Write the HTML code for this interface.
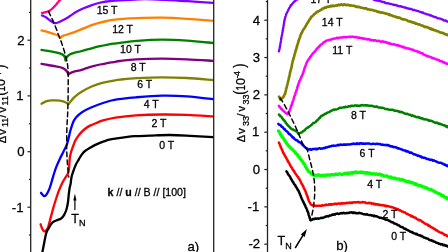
<!DOCTYPE html>
<html><head><meta charset="utf-8"><title>plot</title>
<style>html,body{margin:0;padding:0;background:#fff;width:448px;height:252px;overflow:hidden}svg{display:block;filter:blur(0.35px)}</style>
</head><body>
<svg width="448" height="252" viewBox="0 0 448 252">
<rect width="448" height="252" fill="#fff"/>
<g fill="none" stroke-linecap="round" stroke-linejoin="round">
<path d="M42.00 12.90 C42.48 12.82 43.83 12.67 44.90 12.40 C45.97 12.13 47.52 11.65 48.40 11.30 C49.28 10.95 49.53 10.77 50.20 10.30 C50.87 9.83 51.58 9.25 52.40 8.50 C53.22 7.75 54.23 6.75 55.10 5.80 C55.97 4.85 56.80 3.77 57.60 2.80 C58.40 1.83 59.27 0.80 59.90 0.00 C60.53 -0.80 61.15 -1.67 61.40 -2.00" stroke="#FF0080" stroke-width="2.30"/>
<path d="M42.00 15.40 C42.65 15.72 44.58 16.48 45.90 17.30 C47.22 18.12 48.65 19.42 49.90 20.30 C51.15 21.18 52.42 22.12 53.40 22.60 C54.38 23.08 54.73 23.33 55.80 23.20 C56.87 23.07 58.15 22.53 59.80 21.80 C61.45 21.07 63.72 19.95 65.70 18.80 C67.68 17.65 69.98 16.02 71.70 14.90 C73.42 13.78 74.02 13.20 76.00 12.10 C77.98 11.00 81.07 9.43 83.60 8.30 C86.13 7.17 88.67 6.18 91.20 5.30 C93.73 4.42 96.28 3.63 98.80 3.00 C101.32 2.37 103.52 1.90 106.30 1.50 C109.08 1.10 112.22 0.85 115.50 0.60 C118.78 0.35 121.08 0.23 126.00 0.00 C130.92 -0.23 138.58 -0.77 145.00 -0.80 C151.42 -0.83 157.40 -0.53 164.50 -0.20 C171.60 0.13 179.52 0.70 187.60 1.20 C195.68 1.70 208.77 2.53 213.00 2.80" stroke="#8000FF" stroke-width="2.30"/>
<path d="M41.50 30.40 C42.23 30.57 44.17 30.90 45.90 31.40 C47.63 31.90 50.00 32.78 51.90 33.40 C53.80 34.02 55.90 34.37 57.30 35.10 C58.70 35.83 59.80 37.35 60.30 37.80" stroke="#FF8000" stroke-width="2.30"/>
<path d="M60.30 37.80 C60.72 37.48 61.57 36.47 62.80 35.90 C64.03 35.33 65.88 34.98 67.70 34.40 C69.52 33.82 71.65 33.15 73.70 32.40 C75.75 31.65 77.83 30.78 80.00 29.90 C82.17 29.02 84.48 27.97 86.70 27.10 C88.92 26.23 91.08 25.43 93.30 24.70 C95.52 23.97 97.77 23.32 100.00 22.70 C102.23 22.08 104.48 21.47 106.70 21.00 C108.92 20.53 111.08 20.22 113.30 19.90 C115.52 19.58 116.05 19.40 120.00 19.10 C123.95 18.80 130.00 18.33 137.00 18.10 C144.00 17.87 153.67 17.58 162.00 17.70 C170.33 17.82 178.50 18.27 187.00 18.80 C195.50 19.33 208.67 20.55 213.00 20.90" stroke="#FF8000" stroke-width="2.30"/>
<path d="M41.50 49.90 C42.57 50.07 45.52 50.48 47.90 50.90 C50.28 51.32 53.40 51.82 55.80 52.40 C58.20 52.98 60.83 53.67 62.30 54.40 C63.77 55.13 64.05 55.82 64.60 56.80 C65.15 57.78 65.43 59.72 65.60 60.30" stroke="#008000" stroke-width="2.30"/>
<path d="M65.60 60.30 C65.78 59.80 66.02 58.28 66.70 57.30 C67.38 56.32 68.20 55.22 69.70 54.40 C71.20 53.58 73.98 52.88 75.70 52.40 C77.42 51.92 78.17 51.97 80.00 51.50 C81.83 51.03 84.48 50.22 86.70 49.60 C88.92 48.98 91.08 48.37 93.30 47.80 C95.52 47.23 97.77 46.70 100.00 46.20 C102.23 45.70 104.48 45.22 106.70 44.80 C108.92 44.38 111.08 44.02 113.30 43.70 C115.52 43.38 116.05 43.38 120.00 42.90 C123.95 42.42 130.00 41.35 137.00 40.80 C144.00 40.25 153.67 39.63 162.00 39.60 C170.33 39.57 178.50 40.03 187.00 40.60 C195.50 41.17 208.67 42.60 213.00 43.00" stroke="#008000" stroke-width="2.30"/>
<path d="M41.50 63.80 C42.57 64.00 45.52 64.57 47.90 65.00 C50.28 65.43 53.42 65.92 55.80 66.40 C58.18 66.88 60.45 67.20 62.20 67.90 C63.95 68.60 65.27 69.53 66.30 70.60 C67.33 71.67 68.05 73.68 68.40 74.30" stroke="#800080" stroke-width="2.30"/>
<path d="M68.40 74.30 C68.70 74.10 69.15 73.58 70.20 73.10 C71.25 72.62 73.07 71.85 74.70 71.40 C76.33 70.95 78.00 70.93 80.00 70.40 C82.00 69.87 84.48 68.90 86.70 68.20 C88.92 67.50 91.08 66.82 93.30 66.20 C95.52 65.58 97.77 65.00 100.00 64.50 C102.23 64.00 104.48 63.60 106.70 63.20 C108.92 62.80 111.08 62.47 113.30 62.10 C115.52 61.73 116.22 61.47 120.00 61.00 C123.78 60.53 129.00 59.70 136.00 59.30 C143.00 58.90 153.50 58.60 162.00 58.60 C170.50 58.60 178.50 58.93 187.00 59.30 C195.50 59.67 208.67 60.55 213.00 60.80" stroke="#800080" stroke-width="2.30"/>
<path d="M41.50 103.80 C42.23 103.40 44.33 101.97 45.90 101.40 C47.47 100.83 49.25 100.57 50.90 100.40 C52.55 100.23 53.92 100.27 55.80 100.40 C57.68 100.53 60.45 100.80 62.20 101.20 C63.95 101.60 65.28 102.32 66.30 102.80 C67.32 103.28 67.97 103.88 68.30 104.10" stroke="#808000" stroke-width="2.30"/>
<path d="M68.30 104.10 C68.62 103.73 69.13 103.10 70.20 101.90 C71.27 100.70 72.73 98.62 74.70 96.90 C76.67 95.18 79.27 93.28 82.00 91.60 C84.73 89.92 87.73 88.25 91.10 86.80 C94.47 85.35 98.50 83.92 102.20 82.90 C105.90 81.88 110.33 81.25 113.30 80.70 C116.27 80.15 116.05 80.03 120.00 79.60 C123.95 79.17 130.00 78.48 137.00 78.10 C144.00 77.72 153.67 77.32 162.00 77.30 C170.33 77.28 178.50 77.55 187.00 78.00 C195.50 78.45 208.67 79.67 213.00 80.00" stroke="#808000" stroke-width="2.30"/>
<path d="M41.00 192.80 C41.27 193.13 42.03 194.23 42.60 194.80 C43.17 195.37 43.73 196.28 44.40 196.20 C45.07 196.12 45.77 195.52 46.60 194.30 C47.43 193.08 48.52 191.13 49.40 188.90 C50.28 186.67 51.15 183.38 51.90 180.90 C52.65 178.42 53.17 176.33 53.90 174.00 C54.63 171.67 55.32 169.42 56.30 166.90 C57.28 164.38 58.63 161.38 59.80 158.90 C60.97 156.42 62.15 154.33 63.30 152.00 C64.45 149.67 65.80 147.25 66.70 144.90 C67.60 142.55 68.08 140.30 68.70 137.90 C69.32 135.50 69.57 133.33 70.40 130.50 C71.23 127.67 72.50 123.33 73.70 120.90 C74.90 118.47 76.22 117.35 77.60 115.90 C78.98 114.45 79.85 113.55 82.00 112.20 C84.15 110.85 87.00 109.33 90.50 107.80 C94.00 106.27 98.83 104.37 103.00 103.00 C107.17 101.63 110.00 100.55 115.50 99.60 C121.00 98.65 128.25 97.97 136.00 97.30 C143.75 96.63 153.50 95.77 162.00 95.60 C170.50 95.43 178.50 95.72 187.00 96.30 C195.50 96.88 208.67 98.63 213.00 99.10" stroke="#0000FF" stroke-width="2.30"/>
<path d="M40.60 224.30 C40.80 224.88 41.35 226.78 41.80 227.80 C42.25 228.82 42.80 229.82 43.30 230.40 C43.80 230.98 44.28 231.37 44.80 231.30 C45.32 231.23 45.83 230.75 46.40 230.00 C46.97 229.25 47.48 228.87 48.20 226.80 C48.92 224.73 49.97 220.32 50.70 217.60 C51.43 214.88 52.05 212.52 52.60 210.50 C53.15 208.48 53.27 207.92 54.00 205.50 C54.73 203.08 56.20 198.45 57.00 196.00 C57.80 193.55 58.00 192.82 58.80 190.80 C59.60 188.78 60.80 185.95 61.80 183.90 C62.80 181.85 63.87 180.05 64.80 178.50 C65.73 176.95 66.77 175.77 67.40 174.60 C68.03 173.43 68.30 172.93 68.60 171.50 C68.90 170.07 69.00 168.23 69.20 166.00 C69.40 163.77 69.53 160.27 69.80 158.10 C70.07 155.93 70.40 154.58 70.80 153.00 C71.20 151.42 71.43 150.67 72.20 148.60 C72.97 146.53 74.38 142.73 75.40 140.60 C76.42 138.47 77.25 137.25 78.30 135.80 C79.35 134.35 80.50 133.12 81.70 131.90 C82.90 130.68 84.12 129.55 85.50 128.50 C86.88 127.45 88.27 126.48 90.00 125.60 C91.73 124.72 93.73 124.07 95.90 123.20 C98.07 122.33 99.73 121.33 103.00 120.40 C106.27 119.47 110.00 118.43 115.50 117.60 C121.00 116.77 128.25 115.92 136.00 115.40 C143.75 114.88 153.50 114.58 162.00 114.50 C170.50 114.42 178.50 114.58 187.00 114.90 C195.50 115.22 208.67 116.15 213.00 116.40" stroke="#FF0000" stroke-width="2.30"/>
<path d="M41.90 254.00 C41.98 253.67 41.98 254.03 42.40 252.00 C42.82 249.97 43.75 244.97 44.40 241.80 C45.05 238.63 45.53 235.37 46.30 233.00 C47.07 230.63 48.12 229.20 49.00 227.60 C49.88 226.00 50.70 224.45 51.60 223.40 C52.50 222.35 53.47 221.85 54.40 221.30 C55.33 220.75 56.08 220.57 57.20 220.10 C58.32 219.63 59.97 219.32 61.10 218.50 C62.23 217.68 63.08 216.78 64.00 215.20 C64.92 213.62 65.93 211.20 66.60 209.00 C67.27 206.80 67.67 204.17 68.00 202.00 C68.33 199.83 68.40 197.83 68.60 196.00 C68.80 194.17 69.02 192.42 69.20 191.00 C69.38 189.58 69.47 188.68 69.70 187.50 C69.93 186.32 70.35 185.32 70.60 183.90 C70.85 182.48 70.93 180.57 71.20 179.00 C71.47 177.43 71.83 175.83 72.20 174.50 C72.57 173.17 72.82 172.60 73.40 171.00 C73.98 169.40 74.83 166.77 75.70 164.90 C76.57 163.03 77.60 161.52 78.60 159.80 C79.60 158.08 80.63 156.07 81.70 154.60 C82.77 153.13 83.62 152.13 85.00 151.00 C86.38 149.87 88.18 148.87 90.00 147.80 C91.82 146.73 93.60 145.67 95.90 144.60 C98.20 143.53 101.17 142.30 103.80 141.40 C106.43 140.50 107.73 139.97 111.70 139.20 C115.67 138.43 123.38 137.32 127.60 136.80 C131.82 136.28 133.27 136.30 137.00 136.10 C140.73 135.90 144.50 135.78 150.00 135.60 C155.50 135.42 163.33 134.97 170.00 135.00 C176.67 135.03 182.83 135.43 190.00 135.80 C197.17 136.17 209.17 136.97 213.00 137.20" stroke="#000000" stroke-width="2.30"/>
<path d="M48.40 11.40 C49.32 13.30 52.20 18.87 53.90 22.80 C55.60 26.73 57.20 31.30 58.60 35.00 C60.00 38.70 61.08 41.33 62.30 45.00 C63.52 48.67 64.97 53.17 65.90 57.00 C66.83 60.83 67.52 63.33 67.90 68.00 C68.28 72.67 68.22 78.00 68.20 85.00 C68.18 92.00 68.02 102.83 67.80 110.00 C67.58 117.17 67.08 121.67 66.90 128.00 C66.72 134.33 66.63 142.33 66.70 148.00 C66.77 153.67 67.05 158.00 67.30 162.00 C67.55 166.00 67.95 169.50 68.20 172.00 C68.45 174.50 68.70 176.17 68.80 177.00" stroke="#000" stroke-width="1.45" stroke-dasharray="4.8 3.2"/>
<path d="M278.90 51.40 L279.03 50.67 L279.20 50.22 L279.42 49.21 L279.65 48.33 L279.90 47.10 L280.02 46.00 L280.14 45.23 L280.27 45.10 L280.41 43.80 L280.55 42.91 L280.69 42.62 L280.83 41.30 L280.98 40.70 L281.12 39.53 L281.26 38.81 L281.40 37.62 L281.55 37.16 L281.70 36.52 L281.86 35.43 L282.01 34.81 L282.16 33.96 L282.31 32.69 L282.46 32.46 L282.61 31.55 L282.76 30.53 L282.90 29.52 L283.04 29.39 L283.17 28.25 L283.31 27.61 L283.44 26.91 L283.57 25.95 L283.70 25.30 L283.82 24.08 L283.95 23.65 L284.07 22.64 L284.20 22.35 L284.40 21.28 L284.58 19.73 L284.76 18.92 L284.95 18.18 L285.16 17.99 L285.40 16.75 L285.67 16.07 L285.96 14.99 L286.27 14.34 L286.60 13.44 L286.94 12.60 L287.30 11.97 L287.68 11.13 L288.07 10.52 L288.48 9.48 L288.91 8.83 L289.35 7.96 L289.80 7.29 L290.27 6.31 L290.74 5.22 L291.24 5.11 L291.74 4.56 L292.27 3.91 L292.80 3.06 L293.43 2.52 L294.06 1.53 L294.72 1.46 L295.45 0.68 L296.30 -0.17 L296.95 -0.79 L297.70 -0.64 L298.53 -1.04 L299.37 -2.27 L300.18 -2.18 L300.92 -2.93 L301.55 -3.51 L302.00 -3.66" stroke="#8000FF" stroke-width="2.30"/>
<path d="M368.00 -3.00 L368.43 -2.61 L368.97 -2.29 L369.60 -2.68 L370.32 -1.91 L371.09 -2.04 L371.92 -1.15 L372.79 -1.12 L373.69 -0.33 L374.59 0.08 L375.50 0.00 L376.22 0.62 L377.00 0.30 L377.81 0.35 L378.66 1.00 L379.52 0.78 L380.40 1.14 L381.28 1.54 L382.15 1.92 L383.00 1.77 L383.82 1.89 L384.60 2.74 L385.33 2.48 L386.00 3.17 L387.04 3.38 L387.87 3.15 L388.57 3.37 L389.24 3.56 L389.98 3.82 L390.87 3.99 L392.00 4.25 L392.62 4.46 L393.29 4.89 L394.00 4.73 L394.74 4.86 L395.52 5.30 L396.32 5.13 L397.14 5.40 L397.99 6.16 L398.84 6.03 L399.70 6.28 L400.57 6.09 L401.44 6.64 L402.30 7.01 L403.16 6.79 L404.00 7.49 L404.77 7.71 L405.54 7.45 L406.29 8.10 L407.04 8.16 L407.79 8.51 L408.54 8.44 L409.30 8.91 L410.06 9.13 L410.84 8.76 L411.64 9.00 L412.46 9.72 L413.30 10.18 L414.18 9.85 L415.08 10.28 L416.02 10.67 L417.00 10.76 L417.65 11.00 L418.34 11.18 L419.05 11.45 L419.78 11.87 L420.53 11.89 L421.30 12.20 L422.08 12.79 L422.88 12.46 L423.69 13.17 L424.50 13.58 L425.33 13.53 L426.15 13.74 L426.97 14.49 L427.80 14.33 L428.62 14.57 L429.43 15.05 L430.23 15.54 L431.02 15.34 L431.79 15.79 L432.55 16.07 L433.29 16.72 L434.01 16.66 L434.70 17.23 L435.36 16.92 L436.00 17.27 L437.03 17.88 L438.04 18.42 L439.04 18.42 L440.01 18.57 L440.96 18.82 L441.88 19.47 L442.76 19.51 L443.60 20.30 L444.40 20.60 L445.15 20.34 L445.84 20.66 L446.48 21.31 L447.05 21.38 L447.56 21.69 L448.00 21.48" stroke="#8000FF" stroke-width="2.30"/>
<path d="M279.00 96.60 L279.30 96.91 L279.75 97.93 L280.20 99.23 L280.50 99.42" stroke="#808000" stroke-width="2.70"/>
<path d="M280.50 99.60 L281.14 99.02 L282.04 98.40 L282.90 97.54 L283.33 96.93 L283.75 96.68 L284.16 95.34 L284.54 94.41 L284.90 94.25 L285.14 93.47 L285.37 92.74 L285.58 91.44 L285.79 90.96 L285.99 90.04 L286.20 88.60 L286.40 88.20 L286.63 87.41 L286.85 86.48 L287.07 85.60 L287.29 84.61 L287.53 83.75 L287.80 82.58 L287.96 81.78 L288.13 81.46 L288.30 80.44 L288.48 80.04 L288.67 78.58 L288.86 78.41 L289.05 77.37 L289.24 76.69 L289.43 75.82 L289.62 75.01 L289.80 73.96 L290.01 72.66 L290.22 72.38 L290.45 71.05 L290.67 70.28 L290.89 69.72 L291.11 68.79 L291.31 67.92 L291.50 67.61 L291.66 66.68 L291.80 65.87 L291.98 64.81 L292.02 64.75 L292.07 63.87 L292.30 63.03 L292.45 62.09 L292.63 61.29 L292.83 60.83 L293.05 60.26 L293.28 58.91 L293.53 58.54 L293.78 57.76 L294.04 56.77 L294.30 55.89 L294.55 54.36 L294.80 54.00 L295.03 53.40 L295.27 51.93 L295.51 51.27 L295.76 50.41 L296.02 49.76 L296.27 48.82 L296.52 48.02 L296.76 47.45 L296.99 46.05 L297.21 45.35 L297.41 44.72 L297.60 44.10 L297.90 43.03 L298.12 42.97 L298.31 42.22 L298.49 40.99 L298.71 40.64 L299.00 39.65 L299.24 38.99 L299.49 38.30 L299.76 37.79 L300.04 36.96 L300.34 35.98 L300.66 35.04 L300.99 34.34 L301.34 33.38 L301.70 32.94 L302.09 32.30 L302.50 31.26 L302.94 30.25 L303.39 29.55 L303.86 28.93 L304.33 28.35 L304.79 27.73 L305.25 26.65 L305.70 26.24 L306.13 25.36 L306.56 24.47 L306.98 23.69 L307.40 23.06 L307.82 22.51 L308.25 21.58 L308.69 21.10 L309.14 20.23 L309.60 19.40 L310.11 18.91 L310.58 18.35 L311.05 17.18 L311.54 16.81 L312.08 16.16 L312.68 15.87 L313.38 15.24 L314.20 14.10 L314.73 14.11 L315.29 13.59 L315.88 12.72 L316.51 12.43 L317.17 11.71 L317.84 11.80 L318.54 11.22 L319.26 10.95 L320.00 10.44 L320.74 9.92 L321.50 9.56 L322.26 9.04 L323.03 8.31 L323.80 8.37 L324.53 7.62 L325.28 7.46 L326.06 7.71 L326.85 6.88 L327.66 6.70 L328.47 6.49 L329.29 6.91 L330.12 6.16 L330.94 5.86 L331.77 6.35 L332.58 5.62 L333.39 6.05 L334.18 5.78 L334.95 5.79 L335.70 5.76 L336.60 5.33 L337.45 5.38 L338.28 4.66 L339.08 5.15 L339.87 4.87 L340.66 4.98 L341.46 4.45 L342.28 4.95 L343.13 5.10 L344.03 4.43 L344.98 4.68 L346.00 4.95 L346.67 5.22 L347.33 4.82 L348.00 4.84 L348.67 4.98 L349.36 5.36 L350.05 5.57 L350.75 5.39 L351.47 5.49 L352.21 5.63 L352.96 5.73 L353.74 5.93 L354.54 5.81 L355.36 6.31 L356.22 6.86 L357.10 6.59 L358.02 7.05 L358.98 6.79 L359.97 7.43 L361.00 7.70 L361.64 7.78 L362.32 7.81 L363.03 7.95 L363.78 8.25 L364.55 8.63 L365.34 8.22 L366.16 8.37 L366.99 9.10 L367.84 9.44 L368.71 9.33 L369.59 9.49 L370.48 9.93 L371.37 9.73 L372.27 10.01 L373.17 10.18 L374.06 10.72 L374.95 10.73 L375.84 10.88 L376.71 11.47 L377.58 11.90 L378.42 11.59 L379.26 12.13 L380.06 12.10 L380.85 12.66 L381.61 12.64 L382.35 12.57 L383.05 12.71 L383.72 12.73 L384.35 13.26 L384.94 13.33 L385.49 13.31 L386.00 13.59 L387.74 14.01 L388.72 14.62 L389.22 14.26 L389.52 15.04 L389.89 14.77 L390.63 15.12 L392.00 15.47 L392.52 15.93 L393.06 16.10 L393.64 16.08 L394.24 16.21 L394.87 16.61 L395.53 16.93 L396.21 16.79 L396.91 17.28 L397.63 17.70 L398.38 17.55 L399.14 17.61 L399.92 17.87 L400.71 18.52 L401.52 18.75 L402.34 19.25 L403.18 19.44 L404.02 19.24 L404.88 19.48 L405.74 19.82 L406.61 20.06 L407.48 20.77 L408.36 21.19 L409.24 21.52 L410.12 21.30 L411.00 22.09 L411.68 21.88 L412.38 22.21 L413.10 22.71 L413.83 22.45 L414.59 22.71 L415.36 23.57 L416.14 23.41 L416.93 23.74 L417.74 24.20 L418.55 24.56 L419.37 24.31 L420.20 24.86 L421.03 25.23 L421.86 25.56 L422.69 25.64 L423.52 26.23 L424.35 26.82 L425.18 26.66 L426.00 27.07 L426.81 27.01 L427.61 27.42 L428.41 28.02 L429.19 27.85 L429.96 28.75 L430.71 29.03 L431.45 28.64 L432.16 29.57 L432.86 29.37 L433.54 29.93 L434.19 30.15 L434.82 30.01 L435.42 30.53 L436.00 30.72 L437.13 31.26 L438.20 31.22 L439.23 31.99 L440.20 32.52 L441.11 32.64 L441.98 32.86 L442.80 32.84 L443.56 33.45 L444.28 33.61 L444.95 34.17 L445.57 34.39 L446.15 34.52 L446.68 34.43 L447.16 34.99 L447.60 35.15 L448.00 34.94" stroke="#808000" stroke-width="2.70"/>
<path d="M278.90 105.90 L279.24 106.63 L279.71 107.04 L280.28 107.30 L280.89 108.67 L281.50 108.71 L282.14 109.52 L282.85 110.51 L283.57 111.08 L284.26 111.68 L284.90 112.32 L285.60 112.87 L286.24 113.44 L286.83 113.82 L287.40 113.85 L287.94 114.04 L288.43 113.38 L288.91 112.28 L289.40 111.39 L289.68 110.46 L289.94 109.72 L290.19 109.10 L290.46 108.71 L290.74 107.20 L291.05 106.64 L291.40 105.40 L291.63 105.14 L291.88 104.07 L292.14 103.26 L292.42 102.49 L292.71 101.73 L293.00 101.04 L293.29 99.83 L293.58 99.36 L293.86 97.93 L294.12 97.25 L294.37 96.37 L294.60 95.69 L294.94 95.20 L295.24 94.27 L295.51 93.03 L295.76 92.28 L296.02 91.70 L296.29 91.13 L296.60 90.25 L296.83 89.47 L297.07 88.59 L297.31 87.44 L297.55 86.83 L297.81 85.83 L298.07 85.26 L298.33 84.44 L298.61 83.31 L298.90 82.52 L299.20 82.13 L299.52 80.70 L299.87 80.48 L300.25 79.69 L300.63 78.88 L301.02 77.58 L301.40 76.88 L301.77 76.10 L302.11 75.37 L302.43 74.94 L302.70 74.05 L303.11 72.67 L303.40 72.28 L303.62 71.24 L303.87 70.55 L304.20 69.68 L304.46 68.36 L304.75 68.16 L305.05 67.21 L305.36 66.17 L305.69 65.30 L306.02 64.37 L306.36 63.32 L306.70 62.82 L307.08 61.64 L307.46 61.29 L307.84 60.72 L308.23 59.90 L308.65 59.34 L309.10 58.98 L309.60 58.21 L310.08 56.95 L310.60 56.79 L311.16 55.95 L311.73 54.79 L312.31 54.33 L312.89 53.53 L313.46 52.73 L314.00 52.43 L314.59 52.00 L315.17 50.79 L315.74 50.50 L316.31 49.65 L316.87 48.52 L317.43 48.43 L318.00 47.58 L318.67 47.12 L319.33 46.24 L320.00 45.59 L320.67 44.63 L321.33 44.40 L322.00 43.95 L322.71 43.32 L323.34 42.51 L324.00 42.33 L324.85 41.68 L326.00 40.89 L326.60 40.60 L327.27 40.39 L327.99 40.23 L328.76 39.93 L329.57 39.93 L330.41 39.82 L331.26 39.43 L332.13 39.08 L333.00 39.02 L333.85 38.52 L334.69 38.45 L335.50 38.51 L336.36 38.06 L337.22 37.73 L338.08 38.18 L338.93 37.93 L339.79 37.55 L340.65 37.48 L341.51 37.53 L342.37 37.53 L343.24 37.17 L344.12 36.95 L345.00 37.07 L345.80 37.48 L346.58 36.93 L347.35 37.14 L348.11 36.89 L348.88 36.87 L349.66 36.82 L350.45 37.00 L351.28 36.81 L352.14 36.72 L353.04 36.83 L353.99 36.94 L355.00 37.29 L355.68 37.02 L356.39 37.08 L357.14 37.52 L357.92 37.61 L358.72 37.97 L359.54 37.58 L360.37 38.00 L361.22 38.14 L362.07 38.00 L362.93 38.91 L363.78 38.46 L364.63 38.52 L365.46 38.98 L366.28 38.88 L367.08 39.39 L367.86 39.31 L368.61 39.27 L369.32 39.33 L370.00 39.98 L371.00 39.78 L371.93 40.33 L372.80 40.19 L373.63 40.68 L374.42 40.28 L375.19 40.34 L375.94 40.46 L376.70 41.01 L377.48 40.97 L378.28 40.87 L379.11 40.81 L380.00 41.45 L380.74 41.81 L381.49 41.66 L382.26 41.34 L383.03 41.51 L383.81 41.72 L384.61 41.95 L385.41 42.01 L386.22 42.20 L387.03 42.86 L387.85 43.24 L388.68 42.87 L389.50 43.68 L390.33 43.48 L391.17 43.94 L392.00 44.23 L392.79 44.45 L393.58 43.93 L394.39 44.35 L395.20 44.81 L396.02 45.30 L396.85 44.83 L397.67 45.22 L398.50 45.90 L399.33 45.54 L400.15 46.00 L400.98 46.19 L401.80 46.70 L402.61 47.13 L403.42 46.77 L404.21 47.46 L405.00 47.69 L405.83 48.02 L406.64 48.03 L407.45 48.57 L408.25 48.36 L409.04 48.65 L409.82 48.74 L410.61 49.42 L411.39 49.43 L412.18 49.52 L412.96 49.70 L413.75 50.41 L414.55 50.59 L415.36 50.96 L416.17 51.00 L417.00 51.39 L417.73 51.41 L418.45 52.14 L419.17 51.89 L419.88 52.54 L420.60 53.09 L421.31 53.34 L422.03 53.19 L422.76 53.63 L423.49 54.45 L424.24 54.62 L425.00 55.15 L425.78 55.50 L426.58 55.51 L427.39 56.22 L428.24 56.45 L429.10 56.50 L430.00 56.90 L430.67 56.93 L431.38 57.48 L432.13 58.22 L432.92 57.85 L433.73 58.54 L434.57 58.50 L435.43 58.81 L436.30 59.61 L437.17 59.62 L438.06 59.81 L438.94 60.23 L439.81 60.97 L440.68 61.25 L441.52 61.12 L442.35 61.61 L443.15 62.51 L443.92 62.20 L444.65 62.76 L445.34 62.91 L445.98 63.45 L446.58 63.53 L447.11 63.89 L447.59 63.87 L448.00 63.75" stroke="#FF00FF" stroke-width="2.50"/>
<path d="M278.90 114.60 L279.26 114.72 L279.75 115.16 L280.34 116.37 L280.98 116.47 L281.65 117.11 L282.30 118.58 L282.90 118.66 L283.46 119.90 L284.02 119.97 L284.58 121.01 L285.14 121.55 L285.70 122.77 L286.25 123.31 L286.80 124.01 L287.36 124.77 L287.93 125.53 L288.49 125.76 L289.05 126.60 L289.60 127.06 L290.12 127.33 L290.60 128.37 L291.58 128.95 L292.43 129.61 L293.30 129.56 L294.25 130.21 L295.21 130.48 L296.10 131.18 L296.74 131.29 L297.38 132.30 L297.92 133.17 L298.30 133.36" stroke="#008000" stroke-width="2.50"/>
<path d="M298.30 133.70 L298.86 133.51 L299.66 133.34 L300.57 132.71 L301.46 132.49 L302.20 132.08 L303.05 131.21 L303.72 130.74 L304.50 130.60 L305.06 129.63 L305.64 129.25 L306.27 128.48 L306.98 128.03 L307.80 127.33 L308.40 127.45 L309.09 126.72 L309.82 126.23 L310.59 125.68 L311.35 124.76 L312.07 124.42 L312.73 123.57 L313.30 123.03 L314.27 122.84 L314.92 122.50 L316.00 121.76 L316.47 120.97 L316.96 120.71 L317.48 119.87 L318.04 119.75 L318.64 119.05 L319.29 117.90 L319.99 117.76 L320.76 116.50 L321.59 115.79 L322.50 115.68 L323.08 114.98 L323.69 114.80 L324.33 114.52 L325.01 113.66 L325.71 113.85 L326.43 113.09 L327.17 112.83 L327.93 112.38 L328.70 112.33 L329.48 111.96 L330.27 111.23 L331.07 110.73 L331.86 110.55 L332.66 110.31 L333.45 109.73 L334.23 109.50 L335.00 109.71 L335.77 109.40 L336.55 109.38 L337.34 109.15 L338.13 108.85 L338.93 108.23 L339.73 107.87 L340.54 107.80 L341.35 107.74 L342.15 107.62 L342.96 107.48 L343.77 107.18 L344.57 107.43 L345.37 106.83 L346.16 106.84 L346.95 107.05 L347.73 106.87 L348.50 106.34 L349.36 106.17 L350.22 106.50 L351.07 105.75 L351.91 105.75 L352.75 105.98 L353.58 105.90 L354.41 105.53 L355.24 105.38 L356.06 105.44 L356.89 105.85 L357.71 105.57 L358.53 105.94 L359.35 105.76 L360.17 105.90 L361.00 105.13 L361.82 105.24 L362.65 105.10 L363.47 105.45 L364.28 105.39 L365.10 105.18 L365.92 105.60 L366.73 105.28 L367.55 105.50 L368.36 105.50 L369.18 106.00 L370.00 105.77 L370.82 105.72 L371.64 105.63 L372.47 106.04 L373.30 106.30 L374.08 106.45 L374.87 106.77 L375.67 106.82 L376.46 106.52 L377.26 106.59 L378.06 107.25 L378.87 107.45 L379.67 107.40 L380.47 107.84 L381.27 107.80 L382.07 107.76 L382.86 107.85 L383.66 107.91 L384.44 108.59 L385.22 108.96 L386.00 109.12 L386.82 108.94 L387.63 109.25 L388.43 109.61 L389.22 109.66 L390.01 109.64 L390.80 109.63 L391.59 109.86 L392.37 109.72 L393.16 109.88 L393.95 110.44 L394.75 110.84 L395.55 110.66 L396.36 110.73 L397.17 110.88 L398.00 111.16 L398.74 111.64 L399.50 111.56 L400.26 112.19 L401.03 111.77 L401.81 112.14 L402.59 112.54 L403.38 112.70 L404.17 113.30 L404.96 113.54 L405.74 113.88 L406.52 113.87 L407.29 113.66 L408.06 114.34 L408.81 114.56 L409.56 114.75 L410.29 114.81 L411.00 115.37 L411.84 115.78 L412.64 115.37 L413.42 116.05 L414.17 116.03 L414.91 116.36 L415.64 116.87 L416.38 117.13 L417.11 117.09 L417.86 116.94 L418.62 117.74 L419.41 117.38 L420.24 117.78 L421.10 118.39 L422.00 118.25 L422.70 118.43 L423.43 119.19 L424.19 119.41 L424.97 119.14 L425.76 119.44 L426.58 119.60 L427.40 119.73 L428.24 120.07 L429.08 120.91 L429.92 120.45 L430.76 120.82 L431.60 121.06 L432.42 121.21 L433.24 121.82 L434.03 122.25 L434.81 122.57 L435.57 122.64 L436.30 123.03 L437.00 122.60 L437.93 123.14 L438.88 124.00 L439.82 123.61 L440.76 124.09 L441.67 124.59 L442.57 124.74 L443.44 125.27 L444.27 125.18 L445.05 125.61 L445.78 126.46 L446.44 126.05 L447.04 126.88 L447.56 126.49 L448.00 127.29" stroke="#008000" stroke-width="2.50"/>
<path d="M278.40 123.90 L278.84 124.39 L279.44 124.85 L280.15 125.03 L280.92 125.58 L281.69 126.79 L282.40 126.94 L283.06 127.55 L283.72 128.66 L284.37 129.32 L285.04 129.30 L285.71 130.69 L286.40 131.03 L287.00 131.51 L287.61 131.93 L288.23 132.81 L288.85 133.95 L289.49 134.04 L290.14 134.57 L290.80 135.22 L291.40 135.75 L292.01 136.47 L292.64 137.47 L293.27 137.34 L293.91 137.96 L294.54 139.07 L295.18 139.62 L295.80 140.08 L296.52 140.01 L297.25 140.59 L297.98 141.53 L298.70 141.61 L299.40 142.24 L300.07 142.38 L300.70 142.62 L301.38 143.45 L302.01 144.38 L302.60 145.01 L303.16 145.42 L303.69 145.88 L304.20 146.43 L304.89 146.98 L305.49 147.58 L306.07 148.28 L306.70 148.16 L307.58 148.89 L308.51 149.46 L309.60 149.58 L310.28 149.11 L310.94 149.77 L311.69 149.65 L312.67 149.05 L314.00 149.01 L314.63 148.90 L315.34 148.71 L316.11 149.37 L316.93 148.83 L317.80 149.10 L318.69 148.39 L319.61 148.20 L320.54 148.77 L321.47 148.58 L322.39 148.61 L323.30 148.23 L324.17 147.96 L325.00 148.01 L325.86 147.30 L326.70 147.47 L327.51 147.19 L328.31 146.74 L329.11 146.88 L329.91 146.43 L330.71 146.36 L331.52 146.03 L332.35 145.78 L333.20 145.62 L334.08 145.63 L335.00 145.78 L335.76 145.64 L336.53 145.49 L337.32 145.38 L338.13 144.86 L338.94 145.34 L339.77 144.71 L340.61 144.53 L341.46 144.78 L342.31 144.91 L343.17 144.55 L344.03 144.74 L344.90 144.40 L345.76 144.89 L346.63 144.42 L347.50 144.38 L348.32 144.36 L349.14 144.57 L349.97 144.59 L350.81 144.16 L351.65 144.02 L352.49 144.09 L353.34 143.58 L354.19 143.80 L355.05 144.07 L355.90 143.95 L356.76 143.32 L357.61 143.91 L358.46 143.49 L359.31 143.93 L360.16 143.41 L361.00 143.27 L361.84 143.53 L362.69 143.80 L363.54 143.45 L364.40 143.81 L365.26 143.71 L366.11 143.46 L366.97 143.44 L367.82 143.64 L368.67 143.60 L369.51 143.62 L370.35 143.89 L371.18 144.11 L372.00 143.93 L372.81 143.63 L373.61 143.73 L374.40 143.90 L375.30 144.14 L376.20 143.81 L377.11 143.82 L378.01 144.06 L378.91 144.09 L379.79 143.94 L380.66 144.41 L381.51 144.78 L382.34 144.54 L383.15 144.77 L383.92 144.92 L384.65 145.00 L385.35 145.14 L386.00 144.85 L387.07 145.21 L387.86 144.91 L388.49 145.67 L389.09 145.46 L389.79 145.77 L390.72 146.41 L392.00 146.33 L392.58 146.43 L393.20 147.12 L393.86 147.15 L394.57 146.95 L395.30 147.13 L396.07 147.62 L396.86 147.59 L397.68 148.50 L398.51 148.25 L399.36 148.58 L400.22 148.95 L401.09 149.32 L401.96 149.54 L402.82 149.98 L403.68 150.29 L404.54 150.40 L405.38 150.41 L406.20 151.40 L407.00 151.45 L407.75 151.24 L408.50 151.81 L409.26 152.35 L410.02 152.83 L410.77 152.39 L411.53 152.65 L412.29 153.34 L413.05 153.60 L413.81 154.30 L414.56 154.55 L415.32 154.47 L416.07 154.85 L416.82 155.29 L417.57 155.83 L418.32 155.59 L419.06 156.03 L419.80 156.07 L420.54 156.79 L421.27 156.57 L422.00 157.55 L422.81 157.49 L423.61 157.79 L424.41 157.65 L425.22 158.01 L426.02 158.43 L426.81 158.96 L427.61 158.93 L428.40 158.94 L429.19 159.71 L429.97 159.66 L430.75 159.77 L431.52 159.72 L432.28 160.01 L433.04 160.70 L433.79 160.31 L434.54 160.85 L435.27 161.16 L436.00 161.18 L436.83 161.80 L437.68 162.22 L438.55 162.50 L439.42 162.73 L440.30 162.65 L441.17 162.87 L442.03 163.51 L442.88 163.76 L443.69 163.99 L444.47 164.85 L445.20 164.63 L445.89 165.40 L446.52 165.75 L447.09 165.33 L447.58 166.17 L448.00 165.92" stroke="#0000FF" stroke-width="2.50"/>
<path d="M278.40 131.00 L278.67 131.09 L279.01 131.59 L279.41 132.05 L279.86 133.26 L280.34 133.89 L280.86 135.19 L281.38 135.97 L281.90 135.92 L282.41 137.07 L282.90 137.78 L283.37 138.25 L283.85 139.05 L284.34 139.80 L284.83 141.01 L285.32 141.35 L285.81 141.82 L286.31 142.64 L286.81 143.57 L287.30 144.36 L287.80 144.62 L288.43 145.84 L289.07 145.98 L289.72 147.11 L290.37 147.65 L291.01 147.75 L291.63 148.95 L292.23 149.12 L292.80 149.84 L293.40 150.54 L293.96 151.17 L294.50 151.54 L295.01 151.69 L295.53 153.08 L296.05 153.76 L296.60 153.99 L297.10 154.67 L297.61 154.92 L298.12 156.22 L298.64 156.60 L299.16 156.72 L299.68 158.02 L300.19 158.86 L300.70 158.83 L301.21 160.24 L301.72 160.39 L302.23 160.79 L302.74 162.13 L303.24 162.47 L303.74 163.66 L304.22 164.25 L304.70 164.47 L305.16 165.69 L305.61 166.83 L306.05 167.22 L306.49 168.07 L306.92 169.20 L307.34 169.47 L307.77 170.19 L308.20 170.89 L308.90 171.97 L309.62 171.98 L310.32 172.44 L310.99 173.66 L311.60 173.86 L312.25 174.08 L312.79 175.00 L314.00 175.22 L314.58 174.93 L315.25 175.50 L315.98 175.42 L316.77 175.40 L317.62 174.98 L318.52 174.73 L319.46 175.52 L320.45 175.63 L321.46 175.23 L322.50 175.38 L323.22 175.47 L323.97 175.10 L324.74 175.57 L325.55 175.39 L326.37 175.16 L327.21 174.81 L328.07 175.25 L328.93 174.94 L329.81 175.33 L330.69 174.67 L331.56 174.85 L332.44 174.57 L333.30 174.73 L334.16 174.85 L335.00 174.27 L335.84 174.14 L336.68 174.54 L337.53 174.15 L338.39 174.40 L339.24 173.94 L340.10 173.78 L340.95 174.17 L341.80 174.50 L342.64 174.35 L343.48 173.87 L344.31 173.64 L345.13 173.19 L345.93 173.33 L346.72 173.28 L347.50 173.89 L348.37 172.88 L349.22 173.68 L350.05 173.05 L350.86 172.88 L351.66 172.57 L352.45 173.22 L353.23 172.26 L354.01 172.58 L354.79 172.42 L355.58 171.99 L356.37 171.96 L357.18 172.75 L358.00 172.52 L358.83 172.46 L359.67 172.67 L360.52 171.83 L361.37 172.55 L362.23 172.68 L363.08 172.18 L363.94 172.53 L364.80 173.20 L365.66 172.59 L366.53 173.18 L367.39 172.63 L368.24 173.28 L369.10 172.95 L369.89 173.30 L370.69 173.24 L371.48 173.87 L372.27 173.82 L373.06 173.65 L373.86 173.95 L374.65 173.76 L375.44 174.27 L376.24 173.78 L377.03 174.21 L377.82 174.38 L378.61 174.29 L379.41 174.05 L380.20 174.34 L380.98 175.01 L381.75 174.70 L382.50 175.48 L383.24 175.38 L383.98 176.06 L384.72 176.13 L385.46 176.20 L386.22 176.01 L387.00 175.86 L387.79 176.64 L388.62 177.07 L389.47 177.49 L390.37 176.94 L391.30 177.12 L391.98 178.20 L392.69 178.10 L393.41 178.00 L394.16 178.45 L394.92 177.99 L395.69 178.60 L396.48 178.93 L397.28 179.04 L398.09 178.75 L398.91 178.91 L399.73 179.65 L400.55 180.13 L401.37 179.51 L402.20 179.57 L403.02 179.86 L403.83 180.85 L404.64 180.62 L405.44 180.91 L406.23 181.72 L407.00 181.52 L407.81 181.38 L408.61 182.10 L409.42 181.57 L410.22 182.13 L411.02 182.84 L411.82 182.51 L412.62 182.61 L413.42 183.41 L414.21 183.46 L415.00 184.43 L415.79 183.74 L416.58 184.78 L417.36 184.60 L418.14 185.33 L418.92 185.22 L419.69 185.74 L420.47 185.64 L421.24 185.81 L422.00 186.35 L422.81 187.03 L423.61 186.83 L424.41 187.01 L425.22 187.53 L426.02 187.49 L426.81 188.04 L427.61 188.64 L428.40 188.93 L429.19 189.31 L429.97 189.29 L430.75 189.33 L431.52 189.66 L432.28 190.33 L433.04 190.51 L433.79 191.25 L434.54 191.26 L435.27 192.14 L436.00 192.31 L436.78 192.76 L437.58 193.24 L438.39 193.43 L439.22 193.76 L440.04 194.07 L440.87 194.26 L441.68 195.51 L442.48 195.64 L443.26 195.64 L444.01 196.98 L444.73 197.02 L445.41 197.45 L446.04 197.62 L446.63 197.61 L447.15 198.87 L447.61 198.22 L448.00 198.65" stroke="#00FF00" stroke-width="3.20"/>
<path d="M278.90 142.40 L279.10 143.31 L279.37 143.29 L279.70 144.41 L280.06 145.30 L280.44 146.07 L280.83 147.58 L281.21 148.11 L281.57 148.65 L281.90 149.78 L282.34 150.36 L282.74 151.77 L283.12 152.68 L283.52 153.47 L283.94 153.57 L284.40 154.94 L284.78 155.35 L285.17 156.20 L285.58 156.81 L286.01 157.57 L286.44 158.20 L286.89 159.39 L287.34 159.76 L287.80 161.27 L288.18 161.20 L288.56 162.63 L288.96 162.72 L289.36 163.35 L289.76 164.60 L290.17 165.15 L290.58 166.05 L290.99 166.55 L291.40 167.34 L291.80 167.57 L292.24 168.76 L292.69 169.33 L293.13 170.37 L293.58 170.28 L294.02 171.00 L294.47 172.15 L294.91 173.01 L295.36 173.27 L295.80 174.17 L296.24 174.71 L296.69 175.22 L297.13 175.91 L297.58 176.65 L298.02 176.83 L298.47 177.71 L298.91 178.73 L299.36 179.06 L299.80 179.98 L300.17 180.46 L300.54 181.22 L300.92 182.16 L301.30 182.97 L301.67 183.88 L302.05 184.25 L302.42 184.78 L302.78 185.64 L303.13 186.15 L303.47 187.00 L303.80 187.97 L304.18 188.81 L304.56 189.33 L304.93 190.10 L305.28 190.83 L305.62 191.68 L305.94 192.69 L306.25 193.23 L306.53 194.44 L306.80 194.85 L307.15 195.61 L307.44 196.54 L307.69 197.04 L307.92 198.35 L308.15 199.09 L308.40 199.49 L308.80 200.81 L309.19 201.41 L309.59 202.24 L310.00 202.98 L310.44 203.69 L310.89 204.54 L311.70 205.01 L312.34 205.31 L313.13 205.02 L314.00 205.75 L314.92 205.69 L315.83 205.73 L316.70 205.90 L317.48 205.86 L318.21 205.62 L318.94 205.69 L319.71 205.78 L320.58 205.70 L321.60 205.73 L322.28 205.08 L322.99 205.54 L323.73 205.38 L324.51 205.21 L325.33 205.31 L326.18 204.53 L327.07 204.94 L328.00 204.93 L328.98 204.20 L330.00 204.48 L330.71 204.69 L331.46 204.10 L332.24 204.48 L333.04 204.46 L333.86 204.01 L334.70 203.72 L335.56 203.71 L336.43 204.13 L337.30 203.74 L338.18 203.59 L339.06 203.62 L339.93 203.94 L340.80 203.34 L341.66 203.08 L342.50 203.76 L343.35 203.19 L344.22 203.17 L345.10 203.57 L346.00 202.94 L346.91 202.71 L347.81 203.27 L348.71 202.68 L349.60 202.59 L350.47 203.09 L351.31 202.46 L352.13 202.93 L352.92 202.42 L353.66 202.34 L354.36 202.22 L355.00 202.43 L356.17 202.37 L357.10 202.17 L357.87 202.20 L358.56 202.00 L359.26 202.42 L360.04 202.51 L361.00 202.40 L361.71 202.50 L362.47 201.96 L363.27 202.18 L364.09 202.22 L364.94 202.27 L365.81 203.03 L366.67 203.08 L367.54 203.20 L368.38 203.02 L369.21 202.78 L370.00 203.14 L370.84 202.97 L371.66 203.78 L372.47 203.40 L373.27 203.56 L374.06 204.23 L374.85 203.78 L375.63 204.51 L376.42 204.16 L377.20 204.59 L378.00 204.29 L378.79 205.05 L379.58 204.78 L380.36 204.86 L381.13 205.24 L381.91 205.31 L382.70 205.17 L383.50 205.21 L384.31 205.72 L385.14 205.44 L386.00 206.30 L386.73 206.03 L387.46 206.04 L388.20 206.32 L388.95 206.31 L389.71 206.63 L390.48 206.98 L391.26 207.06 L392.05 207.21 L392.86 207.40 L393.69 207.80 L394.54 208.31 L395.40 208.35 L396.10 208.88 L396.81 208.94 L397.52 208.95 L398.25 209.30 L398.98 210.17 L399.72 210.22 L400.47 210.49 L401.23 210.97 L402.01 211.61 L402.80 211.62 L403.61 212.01 L404.43 212.42 L405.27 212.55 L406.12 213.40 L407.00 213.78 L407.64 214.11 L408.30 214.40 L408.97 214.75 L409.66 215.28 L410.36 215.21 L411.07 216.19 L411.79 215.86 L412.51 216.82 L413.24 216.64 L413.98 217.51 L414.72 217.45 L415.46 217.69 L416.21 218.44 L416.95 219.06 L417.69 219.45 L418.42 219.86 L419.16 220.33 L419.88 219.98 L420.60 220.63 L421.30 220.80 L422.00 221.70 L422.72 221.87 L423.45 222.52 L424.17 222.99 L424.90 223.58 L425.62 223.76 L426.34 224.36 L427.05 224.54 L427.77 224.61 L428.48 225.71 L429.19 225.51 L429.89 225.95 L430.59 226.98 L431.29 226.98 L431.98 227.72 L432.66 227.63 L433.34 228.20 L434.02 229.01 L434.69 228.87 L435.35 229.63 L436.00 230.35 L436.83 230.24 L437.68 231.10 L438.55 231.60 L439.42 231.97 L440.30 232.56 L441.17 232.96 L442.03 232.86 L442.88 233.43 L443.69 234.13 L444.47 234.87 L445.20 234.64 L445.89 235.29 L446.52 235.24 L447.09 236.11 L447.58 236.04 L448.00 236.32" stroke="#FF0000" stroke-width="2.50"/>
<path d="M286.40 171.30 L286.71 171.91 L287.13 172.14 L287.63 173.38 L288.19 174.29 L288.75 175.22 L289.30 175.62 L289.80 176.39 L290.25 177.08 L290.68 178.41 L291.11 178.79 L291.53 179.49 L291.96 180.35 L292.42 181.26 L292.90 181.75 L293.36 182.49 L293.84 183.57 L294.34 184.32 L294.86 184.70 L295.37 185.29 L295.87 186.73 L296.35 187.33 L296.80 187.98 L297.22 188.57 L297.63 189.75 L298.01 190.06 L298.39 190.62 L298.75 191.26 L299.11 192.20 L299.46 193.14 L299.80 193.69 L300.14 194.91 L300.46 195.43 L300.77 196.05 L301.08 196.98 L301.38 197.69 L301.69 198.46 L301.99 199.09 L302.30 199.82 L302.65 200.55 L303.00 201.53 L303.35 201.70 L303.69 202.86 L304.05 203.17 L304.42 204.36 L304.80 204.56 L305.12 205.59 L305.45 206.30 L305.80 207.30 L306.16 207.70 L306.51 208.57 L306.86 209.28 L307.20 210.43 L307.51 211.22 L307.80 211.50 L308.14 212.57 L308.45 213.52 L308.74 215.05 L309.01 215.53 L309.25 216.45 L309.49 216.98 L309.70 217.93 L310.14 219.23 L310.47 219.91 L310.70 219.90" stroke="#000000" stroke-width="2.50"/>
<path d="M310.70 220.30 L311.23 220.03 L311.97 219.75 L312.84 219.04 L313.78 219.29 L314.70 218.66 L315.47 218.50 L316.29 218.67 L317.12 218.57 L317.97 218.45 L318.80 218.68 L319.60 218.32 L320.41 218.07 L321.08 217.77 L321.79 218.06 L322.71 217.72 L324.00 217.53 L324.58 217.21 L325.21 216.75 L325.89 216.55 L326.62 216.41 L327.38 216.10 L328.17 216.44 L328.99 215.95 L329.83 215.40 L330.69 215.51 L331.56 215.18 L332.42 214.48 L333.29 214.79 L334.15 214.17 L335.00 214.60 L335.80 213.76 L336.63 213.74 L337.48 213.58 L338.36 213.94 L339.24 213.80 L340.13 213.50 L341.02 213.06 L341.91 213.19 L342.79 213.33 L343.65 212.74 L344.49 213.36 L345.30 213.23 L346.07 213.25 L346.81 213.01 L347.50 212.89 L348.56 213.11 L349.51 212.50 L350.39 212.51 L351.20 212.36 L351.98 212.41 L352.72 212.93 L353.46 212.40 L354.22 212.95 L355.00 212.72 L355.87 213.15 L356.68 213.12 L357.46 213.13 L358.25 213.34 L359.07 212.80 L359.95 213.10 L360.91 213.32 L362.00 213.54 L362.68 213.85 L363.41 214.14 L364.17 214.15 L364.96 214.44 L365.78 214.40 L366.61 214.28 L367.47 214.56 L368.34 214.91 L369.21 215.14 L370.08 214.95 L370.95 215.12 L371.82 215.51 L372.67 215.39 L373.50 216.11 L374.32 215.59 L375.13 216.30 L375.93 216.35 L376.73 216.31 L377.53 216.80 L378.32 216.92 L379.12 217.51 L379.93 217.67 L380.75 217.66 L381.57 218.13 L382.40 218.40 L383.25 218.10 L384.12 218.94 L385.00 219.27 L385.70 219.67 L386.42 219.77 L387.16 219.79 L387.90 219.96 L388.66 220.66 L389.43 220.65 L390.20 221.44 L390.97 221.66 L391.75 222.24 L392.53 222.24 L393.30 222.57 L394.07 223.43 L394.84 223.62 L395.60 223.76 L396.34 224.28 L397.08 224.54 L397.80 225.07 L398.50 225.31 L399.27 225.51 L400.02 226.45 L400.76 226.76 L401.48 227.04 L402.19 227.04 L402.89 227.35 L403.59 228.16 L404.28 228.61 L404.97 228.85 L405.67 228.87 L406.36 229.65 L407.07 229.86 L407.78 230.11 L408.50 230.65 L409.24 230.90 L410.00 231.42 L410.72 231.84 L411.45 232.35 L412.19 231.98 L412.93 232.67 L413.68 233.30 L414.44 233.38 L415.20 233.64 L415.96 234.17 L416.73 233.83 L417.50 234.76 L418.28 234.94 L419.06 235.23 L419.84 235.33 L420.63 235.90 L421.42 235.83 L422.21 236.48 L423.00 236.61 L423.72 237.45 L424.45 237.67 L425.19 237.72 L425.93 238.28 L426.69 238.31 L427.45 238.76 L428.21 238.81 L428.98 239.71 L429.74 239.97 L430.51 240.30 L431.27 240.09 L432.02 241.01 L432.77 240.68 L433.50 241.44 L434.23 241.68 L434.95 241.63 L435.65 242.21 L436.33 242.85 L437.00 242.90 L437.90 242.99 L438.83 243.71 L439.75 243.66 L440.68 244.40 L441.60 244.30 L442.50 244.32 L443.38 245.30 L444.21 244.83 L445.01 245.21 L445.75 245.84 L446.42 245.52 L447.03 246.04 L447.56 246.45 L448.00 246.37" stroke="#000000" stroke-width="2.50"/>
<path d="M280.00 98.00 C280.67 99.00 282.45 101.33 284.00 104.00 C285.55 106.67 287.63 110.75 289.30 114.00 C290.97 117.25 292.52 120.37 294.00 123.50 C295.48 126.63 296.70 129.38 298.20 132.80 C299.70 136.22 301.47 141.05 303.00 144.00 C304.53 146.95 306.30 148.00 307.40 150.50 C308.50 153.00 308.88 156.25 309.60 159.00 C310.32 161.75 311.03 164.17 311.70 167.00 C312.37 169.83 313.12 173.00 313.60 176.00 C314.08 179.00 314.43 181.72 314.60 185.00 C314.77 188.28 314.82 191.87 314.60 195.70 C314.38 199.53 313.87 204.28 313.30 208.00 C312.73 211.72 311.55 216.33 311.20 218.00" stroke="#000" stroke-width="1.45" stroke-dasharray="4.8 3.2"/>
</g>
<g fill="none"><line x1="30.70" y1="-2" x2="30.70" y2="254" stroke="#222" stroke-width="1.3"/>
<line x1="27.50" y1="40.20" x2="30.70" y2="40.20" stroke="#222" stroke-width="1.2"/>
<line x1="27.50" y1="95.90" x2="30.70" y2="95.90" stroke="#222" stroke-width="1.2"/>
<line x1="27.50" y1="151.70" x2="30.70" y2="151.70" stroke="#222" stroke-width="1.2"/>
<line x1="27.50" y1="207.20" x2="30.70" y2="207.20" stroke="#222" stroke-width="1.2"/>
<line x1="28.90" y1="12.40" x2="30.70" y2="12.40" stroke="#222" stroke-width="1.2"/>
<line x1="28.90" y1="68.05" x2="30.70" y2="68.05" stroke="#222" stroke-width="1.2"/>
<line x1="28.90" y1="123.80" x2="30.70" y2="123.80" stroke="#222" stroke-width="1.2"/>
<line x1="28.90" y1="179.45" x2="30.70" y2="179.45" stroke="#222" stroke-width="1.2"/>
<line x1="28.90" y1="235.00" x2="30.70" y2="235.00" stroke="#222" stroke-width="1.2"/>
<line x1="267.50" y1="-2" x2="267.50" y2="254" stroke="#222" stroke-width="1.3"/>
<line x1="264.30" y1="20.20" x2="267.50" y2="20.20" stroke="#222" stroke-width="1.2"/>
<line x1="264.30" y1="57.53" x2="267.50" y2="57.53" stroke="#222" stroke-width="1.2"/>
<line x1="264.30" y1="94.86" x2="267.50" y2="94.86" stroke="#222" stroke-width="1.2"/>
<line x1="264.30" y1="132.19" x2="267.50" y2="132.19" stroke="#222" stroke-width="1.2"/>
<line x1="264.30" y1="169.52" x2="267.50" y2="169.52" stroke="#222" stroke-width="1.2"/>
<line x1="264.30" y1="206.85" x2="267.50" y2="206.85" stroke="#222" stroke-width="1.2"/>
<line x1="264.30" y1="244.18" x2="267.50" y2="244.18" stroke="#222" stroke-width="1.2"/>
<line x1="265.70" y1="1.54" x2="267.50" y2="1.54" stroke="#222" stroke-width="1.2"/>
<line x1="265.70" y1="38.86" x2="267.50" y2="38.86" stroke="#222" stroke-width="1.2"/>
<line x1="265.70" y1="76.19" x2="267.50" y2="76.19" stroke="#222" stroke-width="1.2"/>
<line x1="265.70" y1="113.52" x2="267.50" y2="113.52" stroke="#222" stroke-width="1.2"/>
<line x1="265.70" y1="150.85" x2="267.50" y2="150.85" stroke="#222" stroke-width="1.2"/>
<line x1="265.70" y1="188.18" x2="267.50" y2="188.18" stroke="#222" stroke-width="1.2"/>
<line x1="265.70" y1="225.51" x2="267.50" y2="225.51" stroke="#222" stroke-width="1.2"/>
<line x1="213.7" y1="-2" x2="213.7" y2="254" stroke="#222" stroke-width="1.3"/></g>
<g font-family="'Liberation Sans', Arial, sans-serif" fill="#000" stroke="#000" stroke-width="0.28">
<text x="24.50" y="44.50" font-size="13.20" text-anchor="end" >2</text>
<text x="23.60" y="100.20" font-size="13.20" text-anchor="end" >1</text>
<text x="24.50" y="156.00" font-size="13.20" text-anchor="end" >0</text>
<text x="23.60" y="211.50" font-size="13.20" text-anchor="end" >-1</text>
<text x="260.20" y="24.50" font-size="13.20" text-anchor="end" >4</text>
<text x="260.20" y="61.83" font-size="13.20" text-anchor="end" >3</text>
<text x="260.20" y="99.16" font-size="13.20" text-anchor="end" >2</text>
<text x="259.30" y="136.49" font-size="13.20" text-anchor="end" >1</text>
<text x="260.20" y="173.82" font-size="13.20" text-anchor="end" >0</text>
<text x="259.30" y="211.15" font-size="13.20" text-anchor="end" >-1</text>
<text x="260.20" y="248.48" font-size="13.20" text-anchor="end" >-2</text>
<text x="96.70" y="13.70" font-size="10.50" text-anchor="start" >15 T</text>
<text x="112.20" y="32.90" font-size="10.50" text-anchor="start" >12 T</text>
<text x="120.10" y="52.60" font-size="10.50" text-anchor="start" >10 T</text>
<text x="130.80" y="70.60" font-size="10.50" text-anchor="start" >8 T</text>
<text x="137.20" y="87.70" font-size="10.50" text-anchor="start" >6 T</text>
<text x="143.70" y="108.00" font-size="10.50" text-anchor="start" >4 T</text>
<text x="151.50" y="127.00" font-size="10.50" text-anchor="start" >2 T</text>
<text x="159.20" y="148.90" font-size="10.50" text-anchor="start" >0 T</text>
<text x="310.50" y="3.00" font-size="10.50" text-anchor="start" >17 T</text>
<text x="321.80" y="25.60" font-size="10.50" text-anchor="start" >14 T</text>
<text x="332.30" y="53.80" font-size="10.50" text-anchor="start" >11 T</text>
<text x="350.90" y="119.10" font-size="10.50" text-anchor="start" >8 T</text>
<text x="359.60" y="156.70" font-size="10.50" text-anchor="start" >6 T</text>
<text x="367.20" y="187.70" font-size="10.50" text-anchor="start" >4 T</text>
<text x="382.40" y="217.90" font-size="10.50" text-anchor="start" >2 T</text>
<text x="391.30" y="240.20" font-size="10.50" text-anchor="start" >0 T</text>
<text x="107.6" y="196.0" font-size="10.6"><tspan font-weight="bold">k</tspan> // <tspan font-weight="bold">u</tspan> // B // [100]</text>
<text x="71.3" y="222.5" font-size="12.6">T<tspan font-size="9" dy="3.2">N</tspan></text>
<text x="277.6" y="245.2" font-size="12.6">T<tspan font-size="9" dy="3.6">N</tspan></text>
<text x="187.50" y="250.80" font-size="13.20" text-anchor="start" >a)</text>
<text x="336.20" y="249.60" font-size="13.20" text-anchor="start" >b)</text>
<g transform="translate(6.00 144.00) rotate(-90)"><text x="0.67" y="0.00" font-size="11.00">Δ</text><text x="9.36" y="0.00" font-size="11.00">v</text><text x="16.90" y="2.30" font-size="9.00">11</text><text x="26.40" y="0.00" font-size="11.00">/</text><text x="31.60" y="0.00" font-size="11.00">v</text><text x="38.60" y="2.30" font-size="9.00">11</text><text transform="translate(48.13 -0.60) scale(0.78 1)" font-size="16.00">(</text><text transform="translate(52.46 -0.60) scale(0.78 1)" font-size="12.50">1</text><text transform="translate(57.91 -0.60) scale(1.00 1)" font-size="12.50">0</text><text transform="translate(64.50 -5.30) scale(1.00 1)" font-size="9.00">-</text><text transform="translate(66.89 -5.30) scale(1.00 1)" font-size="9.00">4</text><text transform="translate(75.13 -0.60) scale(0.78 1)" font-size="16.00">)</text></g>
<g transform="translate(244.70 143.00) rotate(-90)"><text x="0.67" y="0.00" font-size="11.00">Δ</text><text x="9.36" y="0.00" font-size="11.00">v</text><text x="16.90" y="4.00" font-size="9.00">33</text><text x="26.40" y="0.00" font-size="11.00">/</text><text x="31.60" y="0.00" font-size="11.00">v</text><text x="38.60" y="4.00" font-size="9.00">33</text><text transform="translate(48.13 0.30) scale(0.78 1)" font-size="16.00">(</text><text transform="translate(52.46 0.30) scale(0.78 1)" font-size="12.50">1</text><text transform="translate(57.91 0.30) scale(1.00 1)" font-size="12.50">0</text><text transform="translate(64.50 -4.40) scale(1.00 1)" font-size="9.00">-</text><text transform="translate(66.89 -4.40) scale(1.00 1)" font-size="9.00">4</text><text transform="translate(75.13 0.30) scale(0.78 1)" font-size="16.00">)</text></g>
</g>
<line x1="74.9" y1="199" x2="74.9" y2="209.9" stroke="#000" stroke-width="1.2"/>
<polygon points="74.9,193.6 73.3,200.4 76.5,200.4" fill="#000"/>
<line x1="295.20" y1="248.00" x2="303.24" y2="234.87" stroke="#000" stroke-width="1.5"/>
<polygon points="306.90,228.90 304.68,236.92 300.76,234.52" fill="#000"/>
</svg>
</body></html>
